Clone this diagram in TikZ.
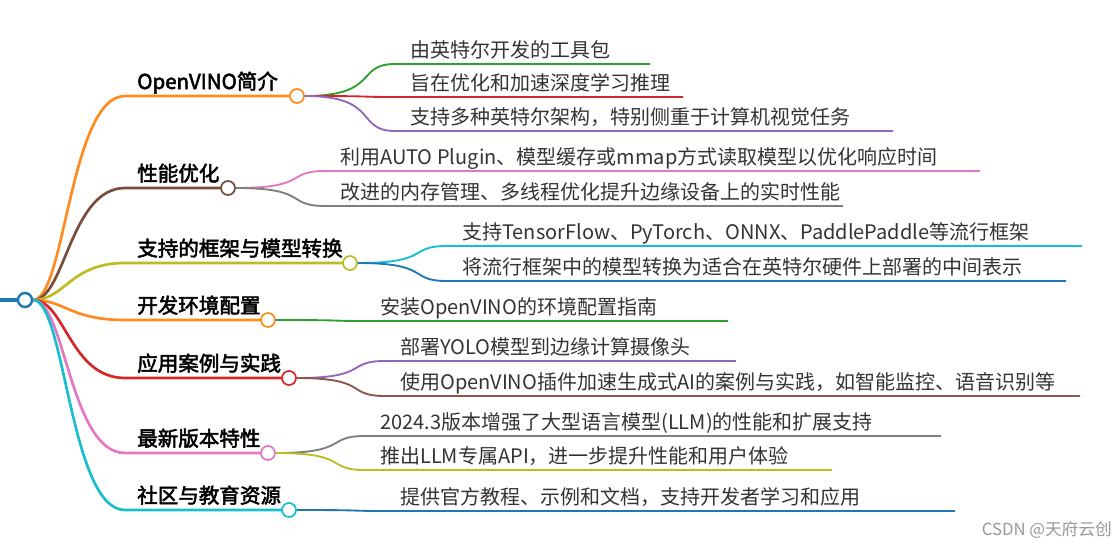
\documentclass[tikz,border=0pt]{standalone}
\usepackage{fontspec}
\setmainfont{Noto Sans CJK SC}[AutoFakeBold=2.5]
\definecolor{cOr}{HTML}{FF8A1E}\definecolor{cBr}{HTML}{7B4B3A}\definecolor{cOl}{HTML}{BCBD22}
\definecolor{cRd}{HTML}{D62728}\definecolor{cPk}{HTML}{E377C2}\definecolor{cCy}{HTML}{17BECF}
\definecolor{cGn}{HTML}{2CA02C}\definecolor{cPu}{HTML}{9467BD}\definecolor{cGy}{HTML}{7F7F7F}
\definecolor{cBl}{HTML}{1F77B4}\definecolor{cBn}{HTML}{8C564B}\definecolor{cTx}{HTML}{333333}
\begin{document}
\begin{tikzpicture}[x=0.75pt,y=-0.75pt,
 dot/.style={circle,draw=#1,fill=white,line width=1.3pt,minimum size=10.5pt,inner sep=0pt},
 br/.style={draw=#1,line width=2pt},
 lf/.style={draw=#1,line width=1.4pt},
 lab/.style={anchor=base west,font=\fontsize{15.4pt}{18pt}\selectfont\bfseries,text=black,inner sep=0pt},
 chd/.style={anchor=base west,font=\fontsize{15pt}{17pt}\selectfont,text=cTx,inner sep=0pt}]
\useasboundingbox (0,0) rectangle (1118,550);
\draw[cBl,line width=3pt] (0,300) -- (18,300);
\node[dot=cBl,line width=1.8pt] (root) at (25,300) {};
\newcommand\mbranch[6]{%
 \draw[br=#2] (root.east) .. controls (65,300) and (70,#3) .. (125,#3) -- (#4-6,#3);
 \node[dot=#2] (#1) at (#4,#3) {};
 \node[lab] (#1t) at (#6,#3-7) {#5};}
\newcommand\mleaf[7]{%
 \coordinate (#7e) at (#5,#3);
 \draw[lf=#2] (#1.east) .. controls (#4-30,\py) and (#4-55,#3) .. (#4-15,#3) -- (#7e);
 \node[chd] (#7) at (#4,#3-7) {#6};}
\mbranch{b1}{cOr}{96}{297}{OpenVINO简介}{137}
\def\py{96}
\mleaf{b1}{cGn}{64}{410}{650}{由英特尔开发的工具包}{l11}
\mleaf{b1}{cRd}{97}{410}{683}{旨在优化和加速深度学习推理}{l12}
\mleaf{b1}{cPu}{131}{410}{893}{支持多种英特尔架构，特别侧重于计算机视觉任务}{l13}
\mbranch{b2}{cBr}{188}{228}{性能优化}{137}
\def\py{188}
\mleaf{b2}{cPk}{171}{340}{980}{利用AUTO Plugin、模型缓存或mmap方式读取模型以优化响应时间}{l21}
\mleaf{b2}{cGy}{206}{340}{843}{改进的内存管理、多线程优化提升边缘设备上的实时性能}{l22}
\mbranch{b3}{cOl}{263}{350}{支持的框架与模型转换}{137}
\def\py{263}
\mleaf{b3}{cCy}{246}{462}{1082}{支持TensorFlow、PyTorch、ONNX、PaddlePaddle等流行框架}{l31}
\mleaf{b3}{cBl}{281}{462}{1066}{将流行框架中的模型转换为适合在英特尔硬件上部署的中间表示}{l32}
\mbranch{b4}{cOr}{320}{268}{开发环境配置}{137}
\def\py{320}
\mleaf{b4}{cGn}{321}{380}{728}{安装OpenVINO的环境配置指南}{l41}
\mbranch{b5}{cRd}{378}{289}{应用案例与实践}{137}
\def\py{378}
\mleaf{b5}{cPu}{361}{400}{736}{部署YOLO模型到边缘计算摄像头}{l51}
\mleaf{b5}{cBn}{396}{400}{1080}{使用OpenVINO插件加速生成式AI的案例与实践，如智能监控、语音识别等}{l52}
\mbranch{b6}{cPk}{453}{268}{最新版本特性}{137}
\def\py{453}
\mleaf{b6}{cGy}{436}{380}{941}{2024.3版本增强了大型语言模型(LLM)的性能和扩展支持}{l61}
\mleaf{b6}{cOl}{470}{380}{832}{推出LLM专属API，进一步提升性能和用户体验}{l62}
\mbranch{b7}{cCy}{510}{289}{社区与教育资源}{137}
\def\py{510}
\mleaf{b7}{cBl}{511}{400}{955}{提供官方教程、示例和文档，支持开发者学习和应用}{l71}
\node[anchor=base east,font=\fontsize{12.5pt}{14pt}\selectfont,text=cGy!80,inner sep=0pt] (wm) at (1112,535) {CSDN @天府云创};
\end{tikzpicture}
\end{document}
